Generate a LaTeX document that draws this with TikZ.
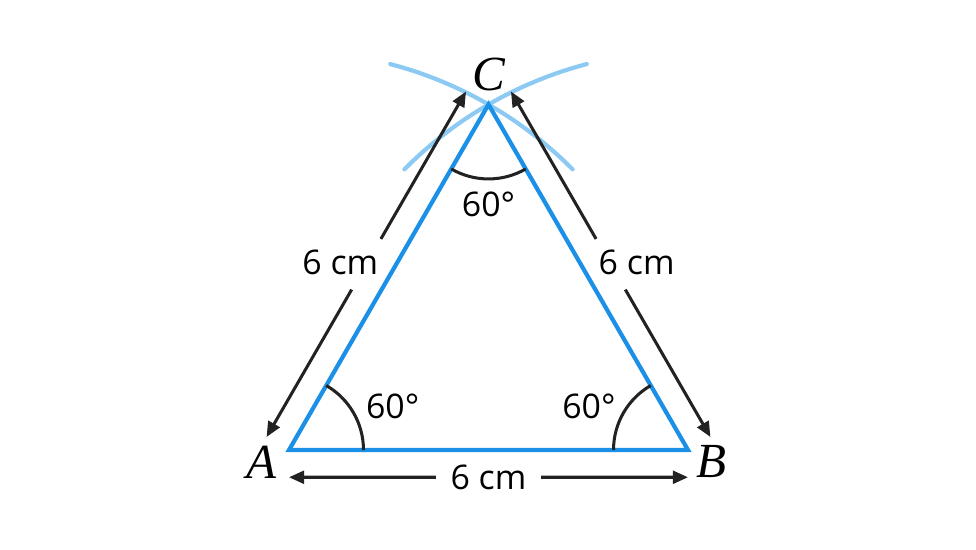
\documentclass[tikz,border=0pt]{standalone}
\usepackage{fontspec}
\setmainfont{Open Sans}
\newfontfamily\vertexfont{Liberation Serif}
\usetikzlibrary{angles, quotes, calc, arrows.meta}
\definecolor{triblue}{HTML}{1A90E6}
\definecolor{arcblue}{HTML}{8CCAF4}
\definecolor{ink}{HTML}{222222}

\begin{document}
\begin{tikzpicture}[
  side/.style={triblue, line width=1.8pt, line join=miter},
  compass/.style={arcblue, line width=1.8pt, line cap=round},
  dim/.style={ink, line width=1.3pt, -{Triangle[length=6.5pt,width=5.5pt]}},
  lbl/.style={font=\fontsize{14.5}{17}\selectfont, inner sep=0pt},
  vlbl/.style={font=\fontsize{21}{25}\selectfont\vertexfont\itshape, inner sep=0pt}]
\useasboundingbox (-4.346,-1.489) rectangle (10.331,6.767);
\coordinate (a) at (0,0);
\coordinate (b) at (6,0);
\coordinate (c) at (60:6);
\draw[compass] (a) ++(44.7:6) arc[start angle=44.7, end angle=75.3, radius=6];
\draw[compass] (b) ++(104.7:6) arc[start angle=104.7, end angle=135.3, radius=6];
\draw[side] (a) -- (b) -- (c) -- cycle;
\coordinate (ac1) at ($(a)!0.39cm!90:(c)$);
\coordinate (ac2) at ($(c)!0.39cm!-90:(a)$);
\coordinate (bc1) at ($(b)!0.39cm!-90:(c)$);
\coordinate (bc2) at ($(c)!0.39cm!90:(b)$);
\coordinate (ab1) at ($(a)!0.41cm!-90:(b)$);
\coordinate (ab2) at ($(b)!0.41cm!90:(a)$);
\coordinate (acm) at ($(ac1)!0.5!(ac2)$);
\coordinate (bcm) at ($(bc1)!0.5!(bc2)$);
\coordinate (abm) at ($(ab1)!0.5!(ab2)$);
\draw[dim, shorten <=0.44cm] (acm) -- (ac1);
\draw[dim, shorten <=0.44cm] (acm) -- (ac2);
\draw[dim, shorten <=0.44cm] (bcm) -- (bc1);
\draw[dim, shorten <=0.44cm] (bcm) -- (bc2);
\draw[dim, shorten <=0.79cm] (abm) -- (ab1);
\draw[dim, shorten <=0.79cm] (abm) -- (ab2);
\node[lbl] (lenac) at ($(acm)+(-0.39,0.03)$) {6 cm};
\node[lbl] (lenbc) at ($(bcm)+(0.39,0.03)$) {6 cm};
\node[lbl] (lenab) at (abm) {6 cm};
\pic [draw, ink, line width=1.3pt, angle radius=1.12cm] {angle=b--a--c};
\pic [draw, ink, line width=1.3pt, angle radius=1.12cm] {angle=c--b--a};
\pic [draw, ink, line width=1.3pt, angle radius=1.12cm] {angle=a--c--b};
\node[lbl] (anga) at ($(a)+(1.56,0.65)$) {60°};
\node[lbl] (angb) at ($(b)+(-1.49,0.65)$) {60°};
\node[lbl] (angc) at ($(c)+(0,-1.5)$) {60°};
\node[vlbl] (va) at ($(a)+(-0.41,-0.18)$) {A};
\node[vlbl] (vb) at ($(b)+(0.35,-0.18)$) {B};
\node[vlbl] (vc) at ($(c)+(0,0.45)$) {C};
\end{tikzpicture}
\end{document}
